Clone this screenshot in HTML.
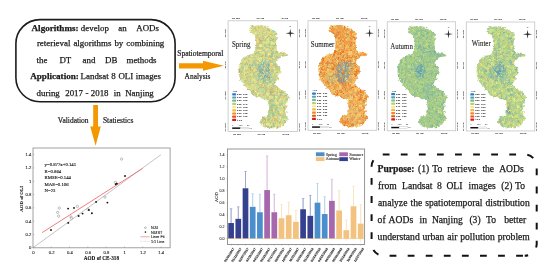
<!DOCTYPE html>
<html><head><meta charset="utf-8"><style>
html,body{margin:0;padding:0;background:#fff;}
body{width:550px;height:280px;position:relative;overflow:hidden;font-family:'Liberation Serif', 'Times New Roman', serif;color:#1a1a1a;}
.jl{position:absolute;white-space:nowrap;text-align:justify;text-align-last:justify;line-height:1;-webkit-text-stroke:0.25px #1a1a1a;}
.jl b,.jw b{font-weight:bold;}
.jw{position:absolute;white-space:nowrap;line-height:1;-webkit-text-stroke:0.25px #1a1a1a;}
.abs{position:absolute;}
svg{position:absolute;overflow:visible;}
.lbl{position:absolute;white-space:nowrap;line-height:1;-webkit-text-stroke:0.2px #1a1a1a;}
</style></head><body>
<svg width="550" height="280" style="left:0;top:0" viewBox="0 0 550 280"><rect x="15.9" y="19.6" width="159.2" height="82.2" rx="24" ry="24" fill="none" stroke="#1c1c1c" stroke-width="1.6"/></svg>
<div class="jw" style="left:31.5px;top:23.67px;font-size:8.9px"><b style="font-size:9.15px">Algorithms:</b> develop</div>
<div class="jw" style="left:118.2px;top:23.67px;font-size:8.9px">an</div>
<div class="jw" style="left:136.3px;top:23.67px;font-size:8.9px">AODs</div>
<div class="jl" style="left:36.9px;top:39.47px;width:127.4px;font-size:8.9px">reterieval algorithms by combining</div>
<div class="jw" style="left:36.6px;top:55.67px;font-size:8.9px">the</div>
<div class="jw" style="left:59.4px;top:55.67px;font-size:8.9px">DT</div>
<div class="jw" style="left:82.6px;top:55.67px;font-size:8.9px">and</div>
<div class="jw" style="left:105.0px;top:55.67px;font-size:8.9px">DB</div>
<div class="jw" style="left:126.5px;top:55.67px;font-size:8.9px">methods</div>
<div class="jw" style="left:30.2px;top:71.67px;font-size:8.9px"><b style="font-size:9.15px">Application:</b></div>
<div class="jl" style="left:80.6px;top:71.67px;width:80.4px;font-size:8.9px">Landsat 8 OLI images</div>
<div class="jw" style="left:36.6px;top:88.57px;font-size:8.9px">during</div>
<div class="jw" style="left:65.2px;top:88.57px;font-size:8.9px">2017</div>
<div class="jw" style="left:85.5px;top:88.57px;font-size:8.9px">-</div>
<div class="jw" style="left:90.8px;top:88.57px;font-size:8.9px">2018</div>
<div class="jw" style="left:113.8px;top:88.57px;font-size:8.9px">in</div>
<div class="jw" style="left:125.2px;top:88.57px;font-size:8.9px">Nanjing</div>
<svg width="550" height="280" style="left:0;top:0" viewBox="0 0 550 280">
<polygon points="179,63.2 203,63.2 203,60.8 223.8,65.8 203,70.8 203,68.4 179,68.4" fill="#F39800"/>
<polygon points="93.2,105 98,105 98,126.6 100.8,126.6 95.6,145.8 90.2,126.6 93.2,126.6" fill="#F39800"/>
</svg>
<div class="lbl" style="left:177.2px;top:50.17px;font-size:7.55px;">Spatiotemporal</div>
<div class="lbl" style="left:184.6px;top:73.21px;font-size:7.4px;">Analysis</div>
<div class="lbl" style="left:57.8px;top:116.72px;font-size:7.5px;">Validation</div>
<div class="lbl" style="left:102.9px;top:116.72px;font-size:7.5px;">Statiestics</div>
<svg width="550" height="280" style="left:0;top:0" viewBox="0 0 550 280">
<defs>
<clipPath id="njclip"><path d="M21.1 6.8 L22.0 5.6 L25.3 5.1 L28.7 4.6 L32.9 4.2 L37.1 5.1 L39.6 6.8 L42.9 8.4 L45.5 10.1 L48.0 10.9 L49.7 13.5 L48.8 16.0 L48.0 19.3 L48.0 24.4 L48.8 29.4 L50.5 31.9 L55.5 31.9 L60.6 33.6 L58.0 35.3 L53.0 36.1 L50.5 38.4 L48.0 41.8 L49.7 45.2 L52.2 47.7 L52.2 51.0 L50.6 54.4 L49.7 57.7 L48.0 61.1 L46.7 63.8 L48.9 65.5 L52.7 67.8 L55.9 70.2 L58.7 72.7 L60.7 75.8 L59.9 80.0 L58.2 85.0 L57.4 90.0 L59.0 94.2 L59.9 98.4 L57.4 102.6 L53.2 106.5 L46.5 107.7 L38.1 107.2 L33.9 105.2 L32.2 102.6 L32.2 99.3 L33.9 96.8 L36.4 95.1 L39.7 94.2 L40.6 92.6 L41.1 88.4 L40.6 83.3 L39.7 80.0 L38.1 78.3 L35.6 77.5 L32.2 76.6 L28.8 76.3 L25.4 74.5 L22.9 72.0 L20.4 69.5 L17.8 66.1 L15.3 63.6 L12.8 60.2 L11.1 56.0 L10.3 51.0 L11.1 46.0 L12.0 41.8 L13.6 38.4 L16.2 35.9 L19.5 34.2 L23.7 33.4 L25.3 32.8 L27.0 30.2 L27.8 26.0 L27.8 19.3 L27.0 14.3 L24.5 12.6 L22.0 10.9 Z"/></clipPath>
<filter id="jag" x="-5%" y="-5%" width="110%" height="110%" color-interpolation-filters="sRGB"><feTurbulence type="fractalNoise" baseFrequency="0.3" numOctaves="3" seed="4" result="t"/><feDisplacementMap in="SourceGraphic" in2="t" scale="4.5" xChannelSelector="R" yChannelSelector="G"/></filter>
<filter id="blur" x="-50%" y="-50%" width="200%" height="200%" color-interpolation-filters="sRGB"><feGaussianBlur in="SourceGraphic" stdDeviation="1.5" result="b"/><feTurbulence type="fractalNoise" baseFrequency="0.45" numOctaves="2" seed="11" result="t"/><feColorMatrix in="t" type="matrix" values="0 0 0 0 0  0 0 0 0 0  0 0 0 0 0  4 0 0 0 -1.4" result="m"/><feComposite in="b" in2="m" operator="in"/></filter>
<filter id="nz0" x="0" y="0" width="1" height="1" color-interpolation-filters="sRGB">
<feTurbulence type="fractalNoise" baseFrequency="0.38" numOctaves="3" seed="3"/>
<feColorMatrix type="matrix" values="-0.561 0.136 0.108 0 0.962  -0.270 -0.249 0.047 0 1.083  0.214 -0.259 0.108 0 0.537  0 0 0 0 1"/>
<feGaussianBlur stdDeviation="0.4"/>
</filter>
<filter id="vn0" x="0" y="0" width="1" height="1" color-interpolation-filters="sRGB"><feTurbulence type="turbulence" baseFrequency="0.16" numOctaves="3" seed="21"/><feColorMatrix type="matrix" values="0 0 0 0 0.886  0 0 0 0 0.478  0 0 0 0 0.220  -2.48 0 0 0 0.45"/></filter>
<filter id="nz1" x="0" y="0" width="1" height="1" color-interpolation-filters="sRGB">
<feTurbulence type="fractalNoise" baseFrequency="0.38" numOctaves="3" seed="10"/>
<feColorMatrix type="matrix" values="-0.395 -0.063 0.033 0 1.154  0.110 -0.464 0.231 0 0.760  0.285 -0.301 0.340 0 0.191  0 0 0 0 1"/>
<feGaussianBlur stdDeviation="0.4"/>
</filter>
<filter id="vn1" x="0" y="0" width="1" height="1" color-interpolation-filters="sRGB"><feTurbulence type="turbulence" baseFrequency="0.16" numOctaves="3" seed="26"/><feColorMatrix type="matrix" values="0 0 0 0 0.847  0 0 0 0 0.314  0 0 0 0 0.110  -3.38 0 0 0 0.75"/></filter>
<filter id="nz2" x="0" y="0" width="1" height="1" color-interpolation-filters="sRGB">
<feTurbulence type="fractalNoise" baseFrequency="0.38" numOctaves="3" seed="17"/>
<feColorMatrix type="matrix" values="-0.387 0.233 0.138 0 0.659  -0.209 0.060 0.078 0 0.832  0.250 0.017 0.065 0 0.379  0 0 0 0 1"/>
<feGaussianBlur stdDeviation="0.4"/>
</filter>
<filter id="vn2" x="0" y="0" width="1" height="1" color-interpolation-filters="sRGB"><feTurbulence type="turbulence" baseFrequency="0.16" numOctaves="3" seed="31"/><feColorMatrix type="matrix" values="0 0 0 0 0.310  0 0 0 0 0.612  0 0 0 0 0.753  -2.70 0 0 0 0.45"/></filter>
<filter id="nz3" x="0" y="0" width="1" height="1" color-interpolation-filters="sRGB">
<feTurbulence type="fractalNoise" baseFrequency="0.38" numOctaves="3" seed="24"/>
<feColorMatrix type="matrix" values="-0.576 0.190 0.155 0 0.853  -0.294 -0.155 0.060 0 1.026  0.306 -0.155 0.104 0 0.414  0 0 0 0 1"/>
<feGaussianBlur stdDeviation="0.4"/>
</filter>
<filter id="vn3" x="0" y="0" width="1" height="1" color-interpolation-filters="sRGB"><feTurbulence type="turbulence" baseFrequency="0.16" numOctaves="3" seed="36"/><feColorMatrix type="matrix" values="0 0 0 0 0.310  0 0 0 0 0.612  0 0 0 0 0.753  -3.00 0 0 0 0.50"/></filter>
</defs>
<g transform="translate(228.1,20.8) scale(1.0)">
<rect x="0" y="0" width="69.5" height="110.6" fill="#fff" stroke="#c4c4c4" stroke-width="0.8"/>
<text transform="translate(7.8,-1.6) scale(0.8,1)" font-size="2.4" fill="#333" stroke="#333" stroke-width="0.06" text-anchor="middle" font-family="'Liberation Sans', Arial, sans-serif">118°30'E</text>
<text transform="translate(8.8,114.2) scale(0.8,1)" font-size="2.4" fill="#333" stroke="#333" stroke-width="0.06" text-anchor="middle" font-family="'Liberation Sans', Arial, sans-serif">118°30'E</text>
<text transform="translate(32.2,-1.6) scale(0.8,1)" font-size="2.4" fill="#333" stroke="#333" stroke-width="0.06" text-anchor="middle" font-family="'Liberation Sans', Arial, sans-serif">118°45'E</text>
<text transform="translate(33.2,114.2) scale(0.8,1)" font-size="2.4" fill="#333" stroke="#333" stroke-width="0.06" text-anchor="middle" font-family="'Liberation Sans', Arial, sans-serif">118°45'E</text>
<text transform="translate(56.6,-1.6) scale(0.8,1)" font-size="2.4" fill="#333" stroke="#333" stroke-width="0.06" text-anchor="middle" font-family="'Liberation Sans', Arial, sans-serif">119°0'E</text>
<text transform="translate(57.6,114.2) scale(0.8,1)" font-size="2.4" fill="#333" stroke="#333" stroke-width="0.06" text-anchor="middle" font-family="'Liberation Sans', Arial, sans-serif">119°0'E</text>
<text transform="translate(-2.0,12.2) rotate(-90)" font-size="2.4" fill="#333" stroke="#333" stroke-width="0.06" text-anchor="middle" font-family="'Liberation Sans', Arial, sans-serif">32°30'N</text>
<text transform="translate(71.7,12.2) rotate(-90)" font-size="2.4" fill="#333" stroke="#333" stroke-width="0.06" text-anchor="middle" font-family="'Liberation Sans', Arial, sans-serif">32°30'N</text>
<text transform="translate(-2.0,44.2) rotate(-90)" font-size="2.4" fill="#333" stroke="#333" stroke-width="0.06" text-anchor="middle" font-family="'Liberation Sans', Arial, sans-serif">32°0'N</text>
<text transform="translate(71.7,44.2) rotate(-90)" font-size="2.4" fill="#333" stroke="#333" stroke-width="0.06" text-anchor="middle" font-family="'Liberation Sans', Arial, sans-serif">32°0'N</text>
<text transform="translate(-2.0,74.4) rotate(-90)" font-size="2.4" fill="#333" stroke="#333" stroke-width="0.06" text-anchor="middle" font-family="'Liberation Sans', Arial, sans-serif">31°45'N</text>
<text transform="translate(71.7,74.4) rotate(-90)" font-size="2.4" fill="#333" stroke="#333" stroke-width="0.06" text-anchor="middle" font-family="'Liberation Sans', Arial, sans-serif">31°45'N</text>
<text transform="translate(-2.0,106.4) rotate(-90)" font-size="2.4" fill="#333" stroke="#333" stroke-width="0.06" text-anchor="middle" font-family="'Liberation Sans', Arial, sans-serif">31°30'N</text>
<text transform="translate(71.7,106.4) rotate(-90)" font-size="2.4" fill="#333" stroke="#333" stroke-width="0.06" text-anchor="middle" font-family="'Liberation Sans', Arial, sans-serif">31°30'N</text>
<g filter="url(#jag)"><g clip-path="url(#njclip)">
<rect x="8" y="2" width="56" height="108" filter="url(#nz0)"/>
<rect x="8" y="2" width="56" height="108" filter="url(#vn0)"/>
<g filter="url(#blur)">
<ellipse cx="36" cy="50" rx="7" ry="10" fill="#4f97c2" opacity="0.51"/>
<ellipse cx="40" cy="60" rx="4" ry="4" fill="#5a9fc0" opacity="0.425"/>
<ellipse cx="31.5" cy="20.5" rx="2.2" ry="2.5" fill="#ee8a3a" opacity="0.765"/>
<ellipse cx="27" cy="27" rx="1.5" ry="4" fill="#eea050" opacity="0.51"/>
<ellipse cx="43" cy="88" rx="5" ry="10" fill="#8cbf98" opacity="0.51"/>
<ellipse cx="22" cy="60" rx="7" ry="7" fill="#d2d48a" opacity="0.425"/>
<ellipse cx="44" cy="70" rx="4" ry="3" fill="#e07a40" opacity="0.34"/>
<ellipse cx="33" cy="10" rx="8" ry="5" fill="#e6cf88" opacity="0.51"/>
</g>
</g></g>
<text transform="translate(3.8,26.3) scale(0.78,1)" font-size="9" fill="#1a1a1a" stroke="#1a1a1a" stroke-width="0.1" font-family="'Liberation Serif', 'Times New Roman', serif">Spring</text>
<path d="M62.2 7.9 L62.900000000000006 11.8 L66.8 12.5 L62.900000000000006 13.2 L62.2 17.0 L61.5 13.2 L57.5 12.5 L61.5 11.8 Z" fill="#333"/>
<text x="62.2" y="6.2" font-size="2.2" fill="#333" text-anchor="middle" font-family="'Liberation Sans', Arial, sans-serif">N</text>
<text x="4.6" y="71.2" font-size="2.1" fill="#222" font-family="'Liberation Sans', Arial, sans-serif" font-weight="bold">AOD</text>
<rect x="4.1" y="72.40" width="3.9" height="2.2" rx="0.6" fill="#2a7cc4"/>
<text x="9" y="74.20" font-size="2.2" fill="#222" stroke="#222" stroke-width="0.06" font-family="'Liberation Sans', Arial, sans-serif">0.00 - 0.17</text>
<rect x="4.1" y="75.60" width="3.9" height="2.2" rx="0.6" fill="#5a9fbd"/>
<text x="9" y="77.40" font-size="2.2" fill="#222" stroke="#222" stroke-width="0.06" font-family="'Liberation Sans', Arial, sans-serif">0.17 - 0.28</text>
<rect x="4.1" y="78.80" width="3.9" height="2.2" rx="0.6" fill="#7fb98a"/>
<text x="9" y="80.60" font-size="2.2" fill="#222" stroke="#222" stroke-width="0.06" font-family="'Liberation Sans', Arial, sans-serif">0.28 - 0.37</text>
<rect x="4.1" y="82.00" width="3.9" height="2.2" rx="0.6" fill="#b4d36a"/>
<text x="9" y="83.80" font-size="2.2" fill="#222" stroke="#222" stroke-width="0.06" font-family="'Liberation Sans', Arial, sans-serif">0.37 - 0.46</text>
<rect x="4.1" y="85.20" width="3.9" height="2.2" rx="0.6" fill="#f6e7a6"/>
<text x="9" y="87.00" font-size="2.2" fill="#222" stroke="#222" stroke-width="0.06" font-family="'Liberation Sans', Arial, sans-serif">0.46 - 0.73</text>
<rect x="4.1" y="88.40" width="3.9" height="2.2" rx="0.6" fill="#f7bb3c"/>
<text x="9" y="90.20" font-size="2.2" fill="#222" stroke="#222" stroke-width="0.06" font-family="'Liberation Sans', Arial, sans-serif">0.73 - 0.88</text>
<rect x="4.1" y="91.60" width="3.9" height="2.2" rx="0.6" fill="#f4862a"/>
<text x="9" y="93.40" font-size="2.2" fill="#222" stroke="#222" stroke-width="0.06" font-family="'Liberation Sans', Arial, sans-serif">0.88 - 1.05</text>
<rect x="4.1" y="94.80" width="3.9" height="2.2" rx="0.6" fill="#e6511d"/>
<text x="9" y="96.60" font-size="2.2" fill="#222" stroke="#222" stroke-width="0.06" font-family="'Liberation Sans', Arial, sans-serif">1.05 - 1.26</text>
<rect x="4.1" y="98.00" width="3.9" height="2.2" rx="0.6" fill="#dc1a12"/>
<text x="9" y="99.80" font-size="2.2" fill="#222" stroke="#222" stroke-width="0.06" font-family="'Liberation Sans', Arial, sans-serif">&gt; 1.3</text>
<text x="4" y="105" font-size="2.1" fill="#333" font-family="'Liberation Sans', Arial, sans-serif">0</text>
<text x="10.5" y="105" font-size="2.1" fill="#333" font-family="'Liberation Sans', Arial, sans-serif">12.5</text>
<text x="19" y="105" font-size="2.1" fill="#333" font-family="'Liberation Sans', Arial, sans-serif">25</text>
<rect x="4.1" y="106.6" width="8" height="1.5" fill="#111"/>
<rect x="12.1" y="106.6" width="8.6" height="1.5" fill="#fff" stroke="#999" stroke-width="0.3"/>
<text x="21.2" y="108.2" font-size="1.8" fill="#444" font-family="'Liberation Sans', Arial, sans-serif">Km</text>
</g>
<g transform="translate(308.0,20.8) scale(0.99)">
<rect x="0" y="0" width="69.5" height="110.6" fill="#fff" stroke="#c4c4c4" stroke-width="0.8"/>
<text transform="translate(7.8,-1.6) scale(0.8,1)" font-size="2.4" fill="#333" stroke="#333" stroke-width="0.06" text-anchor="middle" font-family="'Liberation Sans', Arial, sans-serif">118°30'E</text>
<text transform="translate(8.8,114.2) scale(0.8,1)" font-size="2.4" fill="#333" stroke="#333" stroke-width="0.06" text-anchor="middle" font-family="'Liberation Sans', Arial, sans-serif">118°30'E</text>
<text transform="translate(32.2,-1.6) scale(0.8,1)" font-size="2.4" fill="#333" stroke="#333" stroke-width="0.06" text-anchor="middle" font-family="'Liberation Sans', Arial, sans-serif">118°45'E</text>
<text transform="translate(33.2,114.2) scale(0.8,1)" font-size="2.4" fill="#333" stroke="#333" stroke-width="0.06" text-anchor="middle" font-family="'Liberation Sans', Arial, sans-serif">118°45'E</text>
<text transform="translate(56.6,-1.6) scale(0.8,1)" font-size="2.4" fill="#333" stroke="#333" stroke-width="0.06" text-anchor="middle" font-family="'Liberation Sans', Arial, sans-serif">119°0'E</text>
<text transform="translate(57.6,114.2) scale(0.8,1)" font-size="2.4" fill="#333" stroke="#333" stroke-width="0.06" text-anchor="middle" font-family="'Liberation Sans', Arial, sans-serif">119°0'E</text>
<text transform="translate(-2.0,12.2) rotate(-90)" font-size="2.4" fill="#333" stroke="#333" stroke-width="0.06" text-anchor="middle" font-family="'Liberation Sans', Arial, sans-serif">32°30'N</text>
<text transform="translate(71.7,12.2) rotate(-90)" font-size="2.4" fill="#333" stroke="#333" stroke-width="0.06" text-anchor="middle" font-family="'Liberation Sans', Arial, sans-serif">32°30'N</text>
<text transform="translate(-2.0,44.2) rotate(-90)" font-size="2.4" fill="#333" stroke="#333" stroke-width="0.06" text-anchor="middle" font-family="'Liberation Sans', Arial, sans-serif">32°0'N</text>
<text transform="translate(71.7,44.2) rotate(-90)" font-size="2.4" fill="#333" stroke="#333" stroke-width="0.06" text-anchor="middle" font-family="'Liberation Sans', Arial, sans-serif">32°0'N</text>
<text transform="translate(-2.0,74.4) rotate(-90)" font-size="2.4" fill="#333" stroke="#333" stroke-width="0.06" text-anchor="middle" font-family="'Liberation Sans', Arial, sans-serif">31°45'N</text>
<text transform="translate(71.7,74.4) rotate(-90)" font-size="2.4" fill="#333" stroke="#333" stroke-width="0.06" text-anchor="middle" font-family="'Liberation Sans', Arial, sans-serif">31°45'N</text>
<text transform="translate(-2.0,106.4) rotate(-90)" font-size="2.4" fill="#333" stroke="#333" stroke-width="0.06" text-anchor="middle" font-family="'Liberation Sans', Arial, sans-serif">31°30'N</text>
<text transform="translate(71.7,106.4) rotate(-90)" font-size="2.4" fill="#333" stroke="#333" stroke-width="0.06" text-anchor="middle" font-family="'Liberation Sans', Arial, sans-serif">31°30'N</text>
<g filter="url(#jag)"><g clip-path="url(#njclip)">
<rect x="8" y="2" width="56" height="108" filter="url(#nz1)"/>
<rect x="8" y="2" width="56" height="108" filter="url(#vn1)"/>
<g filter="url(#blur)">
<ellipse cx="35" cy="52" rx="8" ry="11" fill="#4f97c2" opacity="0.6375"/>
<ellipse cx="41" cy="44" rx="4" ry="4" fill="#5a9fc0" opacity="0.51"/>
<ellipse cx="24" cy="60" rx="3" ry="3" fill="#6aa8b8" opacity="0.425"/>
<ellipse cx="30" cy="12" rx="9" ry="7" fill="#ee8a36" opacity="0.595"/>
<ellipse cx="42" cy="25" rx="6" ry="6" fill="#ef9440" opacity="0.51"/>
<ellipse cx="46" cy="95" rx="8" ry="9" fill="#e9cc84" opacity="0.595"/>
<ellipse cx="22" cy="58" rx="5" ry="5" fill="#b4c88a" opacity="0.425"/>
<ellipse cx="44" cy="76" rx="4" ry="4" fill="#d8c888" opacity="0.425"/>
</g>
</g></g>
<text transform="translate(2.9,26.3) scale(0.78,1)" font-size="9" fill="#1a1a1a" stroke="#1a1a1a" stroke-width="0.1" font-family="'Liberation Serif', 'Times New Roman', serif">Summer</text>
<path d="M62.2 7.9 L62.900000000000006 11.8 L66.8 12.5 L62.900000000000006 13.2 L62.2 17.0 L61.5 13.2 L57.5 12.5 L61.5 11.8 Z" fill="#333"/>
<text x="62.2" y="6.2" font-size="2.2" fill="#333" text-anchor="middle" font-family="'Liberation Sans', Arial, sans-serif">N</text>
<text x="4.6" y="71.2" font-size="2.1" fill="#222" font-family="'Liberation Sans', Arial, sans-serif" font-weight="bold">AOD</text>
<rect x="4.1" y="72.40" width="3.9" height="2.2" rx="0.6" fill="#2a7cc4"/>
<text x="9" y="74.20" font-size="2.2" fill="#222" stroke="#222" stroke-width="0.06" font-family="'Liberation Sans', Arial, sans-serif">0.00 - 0.17</text>
<rect x="4.1" y="75.60" width="3.9" height="2.2" rx="0.6" fill="#5a9fbd"/>
<text x="9" y="77.40" font-size="2.2" fill="#222" stroke="#222" stroke-width="0.06" font-family="'Liberation Sans', Arial, sans-serif">0.17 - 0.28</text>
<rect x="4.1" y="78.80" width="3.9" height="2.2" rx="0.6" fill="#7fb98a"/>
<text x="9" y="80.60" font-size="2.2" fill="#222" stroke="#222" stroke-width="0.06" font-family="'Liberation Sans', Arial, sans-serif">0.28 - 0.37</text>
<rect x="4.1" y="82.00" width="3.9" height="2.2" rx="0.6" fill="#b4d36a"/>
<text x="9" y="83.80" font-size="2.2" fill="#222" stroke="#222" stroke-width="0.06" font-family="'Liberation Sans', Arial, sans-serif">0.37 - 0.46</text>
<rect x="4.1" y="85.20" width="3.9" height="2.2" rx="0.6" fill="#f6e7a6"/>
<text x="9" y="87.00" font-size="2.2" fill="#222" stroke="#222" stroke-width="0.06" font-family="'Liberation Sans', Arial, sans-serif">0.46 - 0.73</text>
<rect x="4.1" y="88.40" width="3.9" height="2.2" rx="0.6" fill="#f7bb3c"/>
<text x="9" y="90.20" font-size="2.2" fill="#222" stroke="#222" stroke-width="0.06" font-family="'Liberation Sans', Arial, sans-serif">0.73 - 0.88</text>
<rect x="4.1" y="91.60" width="3.9" height="2.2" rx="0.6" fill="#f4862a"/>
<text x="9" y="93.40" font-size="2.2" fill="#222" stroke="#222" stroke-width="0.06" font-family="'Liberation Sans', Arial, sans-serif">0.88 - 1.05</text>
<rect x="4.1" y="94.80" width="3.9" height="2.2" rx="0.6" fill="#e6511d"/>
<text x="9" y="96.60" font-size="2.2" fill="#222" stroke="#222" stroke-width="0.06" font-family="'Liberation Sans', Arial, sans-serif">1.05 - 1.26</text>
<rect x="4.1" y="98.00" width="3.9" height="2.2" rx="0.6" fill="#dc1a12"/>
<text x="9" y="99.80" font-size="2.2" fill="#222" stroke="#222" stroke-width="0.06" font-family="'Liberation Sans', Arial, sans-serif">&gt; 1.3</text>
<text x="4" y="105" font-size="2.1" fill="#333" font-family="'Liberation Sans', Arial, sans-serif">0</text>
<text x="10.5" y="105" font-size="2.1" fill="#333" font-family="'Liberation Sans', Arial, sans-serif">12.5</text>
<text x="19" y="105" font-size="2.1" fill="#333" font-family="'Liberation Sans', Arial, sans-serif">25</text>
<rect x="4.1" y="106.6" width="8" height="1.5" fill="#111"/>
<rect x="12.1" y="106.6" width="8.6" height="1.5" fill="#fff" stroke="#999" stroke-width="0.3"/>
<text x="21.2" y="108.2" font-size="1.8" fill="#444" font-family="'Liberation Sans', Arial, sans-serif">Km</text>
</g>
<g transform="translate(387.2,21.8) scale(0.985)">
<rect x="0" y="0" width="69.5" height="110.6" fill="#fff" stroke="#c4c4c4" stroke-width="0.8"/>
<text transform="translate(7.8,-1.6) scale(0.8,1)" font-size="2.4" fill="#333" stroke="#333" stroke-width="0.06" text-anchor="middle" font-family="'Liberation Sans', Arial, sans-serif">118°30'E</text>
<text transform="translate(8.8,114.2) scale(0.8,1)" font-size="2.4" fill="#333" stroke="#333" stroke-width="0.06" text-anchor="middle" font-family="'Liberation Sans', Arial, sans-serif">118°30'E</text>
<text transform="translate(32.2,-1.6) scale(0.8,1)" font-size="2.4" fill="#333" stroke="#333" stroke-width="0.06" text-anchor="middle" font-family="'Liberation Sans', Arial, sans-serif">118°45'E</text>
<text transform="translate(33.2,114.2) scale(0.8,1)" font-size="2.4" fill="#333" stroke="#333" stroke-width="0.06" text-anchor="middle" font-family="'Liberation Sans', Arial, sans-serif">118°45'E</text>
<text transform="translate(56.6,-1.6) scale(0.8,1)" font-size="2.4" fill="#333" stroke="#333" stroke-width="0.06" text-anchor="middle" font-family="'Liberation Sans', Arial, sans-serif">119°0'E</text>
<text transform="translate(57.6,114.2) scale(0.8,1)" font-size="2.4" fill="#333" stroke="#333" stroke-width="0.06" text-anchor="middle" font-family="'Liberation Sans', Arial, sans-serif">119°0'E</text>
<text transform="translate(-2.0,12.2) rotate(-90)" font-size="2.4" fill="#333" stroke="#333" stroke-width="0.06" text-anchor="middle" font-family="'Liberation Sans', Arial, sans-serif">32°30'N</text>
<text transform="translate(71.7,12.2) rotate(-90)" font-size="2.4" fill="#333" stroke="#333" stroke-width="0.06" text-anchor="middle" font-family="'Liberation Sans', Arial, sans-serif">32°30'N</text>
<text transform="translate(-2.0,44.2) rotate(-90)" font-size="2.4" fill="#333" stroke="#333" stroke-width="0.06" text-anchor="middle" font-family="'Liberation Sans', Arial, sans-serif">32°0'N</text>
<text transform="translate(71.7,44.2) rotate(-90)" font-size="2.4" fill="#333" stroke="#333" stroke-width="0.06" text-anchor="middle" font-family="'Liberation Sans', Arial, sans-serif">32°0'N</text>
<text transform="translate(-2.0,74.4) rotate(-90)" font-size="2.4" fill="#333" stroke="#333" stroke-width="0.06" text-anchor="middle" font-family="'Liberation Sans', Arial, sans-serif">31°45'N</text>
<text transform="translate(71.7,74.4) rotate(-90)" font-size="2.4" fill="#333" stroke="#333" stroke-width="0.06" text-anchor="middle" font-family="'Liberation Sans', Arial, sans-serif">31°45'N</text>
<text transform="translate(-2.0,106.4) rotate(-90)" font-size="2.4" fill="#333" stroke="#333" stroke-width="0.06" text-anchor="middle" font-family="'Liberation Sans', Arial, sans-serif">31°30'N</text>
<text transform="translate(71.7,106.4) rotate(-90)" font-size="2.4" fill="#333" stroke="#333" stroke-width="0.06" text-anchor="middle" font-family="'Liberation Sans', Arial, sans-serif">31°30'N</text>
<g filter="url(#jag)"><g clip-path="url(#njclip)">
<rect x="8" y="2" width="56" height="108" filter="url(#nz2)"/>
<rect x="8" y="2" width="56" height="108" filter="url(#vn2)"/>
<g filter="url(#blur)">
<ellipse cx="34" cy="50" rx="5" ry="7" fill="#4a94c2" opacity="0.765"/>
<ellipse cx="40.5" cy="89.5" rx="1.3" ry="3.2" fill="#3f8ec4" opacity="0.765"/>
<ellipse cx="50" cy="31.5" rx="9" ry="1.6" fill="#3f8ec4" opacity="0.68"/>
<ellipse cx="38" cy="29" rx="6" ry="2" fill="#4f97c2" opacity="0.51"/>
<ellipse cx="42" cy="70" rx="4" ry="8" fill="#6aa8b8" opacity="0.425"/>
<ellipse cx="20" cy="58" rx="6" ry="6" fill="#c8d282" opacity="0.425"/>
<ellipse cx="45" cy="98" rx="6" ry="7" fill="#a9cb80" opacity="0.425"/>
</g>
</g></g>
<text transform="translate(3.05,27.2) scale(0.78,1)" font-size="9" fill="#1a1a1a" stroke="#1a1a1a" stroke-width="0.1" font-family="'Liberation Serif', 'Times New Roman', serif">Autumn</text>
<path d="M62.2 7.9 L62.900000000000006 11.8 L66.8 12.5 L62.900000000000006 13.2 L62.2 17.0 L61.5 13.2 L57.5 12.5 L61.5 11.8 Z" fill="#333"/>
<text x="62.2" y="6.2" font-size="2.2" fill="#333" text-anchor="middle" font-family="'Liberation Sans', Arial, sans-serif">N</text>
<text x="4.6" y="71.2" font-size="2.1" fill="#222" font-family="'Liberation Sans', Arial, sans-serif" font-weight="bold">AOD</text>
<rect x="4.1" y="72.40" width="3.9" height="2.2" rx="0.6" fill="#2a7cc4"/>
<text x="9" y="74.20" font-size="2.2" fill="#222" stroke="#222" stroke-width="0.06" font-family="'Liberation Sans', Arial, sans-serif">0.00 - 0.17</text>
<rect x="4.1" y="75.60" width="3.9" height="2.2" rx="0.6" fill="#5a9fbd"/>
<text x="9" y="77.40" font-size="2.2" fill="#222" stroke="#222" stroke-width="0.06" font-family="'Liberation Sans', Arial, sans-serif">0.17 - 0.28</text>
<rect x="4.1" y="78.80" width="3.9" height="2.2" rx="0.6" fill="#7fb98a"/>
<text x="9" y="80.60" font-size="2.2" fill="#222" stroke="#222" stroke-width="0.06" font-family="'Liberation Sans', Arial, sans-serif">0.28 - 0.37</text>
<rect x="4.1" y="82.00" width="3.9" height="2.2" rx="0.6" fill="#b4d36a"/>
<text x="9" y="83.80" font-size="2.2" fill="#222" stroke="#222" stroke-width="0.06" font-family="'Liberation Sans', Arial, sans-serif">0.37 - 0.46</text>
<rect x="4.1" y="85.20" width="3.9" height="2.2" rx="0.6" fill="#f6e7a6"/>
<text x="9" y="87.00" font-size="2.2" fill="#222" stroke="#222" stroke-width="0.06" font-family="'Liberation Sans', Arial, sans-serif">0.46 - 0.73</text>
<rect x="4.1" y="88.40" width="3.9" height="2.2" rx="0.6" fill="#f7bb3c"/>
<text x="9" y="90.20" font-size="2.2" fill="#222" stroke="#222" stroke-width="0.06" font-family="'Liberation Sans', Arial, sans-serif">0.73 - 0.88</text>
<rect x="4.1" y="91.60" width="3.9" height="2.2" rx="0.6" fill="#f4862a"/>
<text x="9" y="93.40" font-size="2.2" fill="#222" stroke="#222" stroke-width="0.06" font-family="'Liberation Sans', Arial, sans-serif">0.88 - 1.05</text>
<rect x="4.1" y="94.80" width="3.9" height="2.2" rx="0.6" fill="#e6511d"/>
<text x="9" y="96.60" font-size="2.2" fill="#222" stroke="#222" stroke-width="0.06" font-family="'Liberation Sans', Arial, sans-serif">1.05 - 1.26</text>
<rect x="4.1" y="98.00" width="3.9" height="2.2" rx="0.6" fill="#dc1a12"/>
<text x="9" y="99.80" font-size="2.2" fill="#222" stroke="#222" stroke-width="0.06" font-family="'Liberation Sans', Arial, sans-serif">&gt; 1.3</text>
<text x="4" y="105" font-size="2.1" fill="#333" font-family="'Liberation Sans', Arial, sans-serif">0</text>
<text x="10.5" y="105" font-size="2.1" fill="#333" font-family="'Liberation Sans', Arial, sans-serif">12.5</text>
<text x="19" y="105" font-size="2.1" fill="#333" font-family="'Liberation Sans', Arial, sans-serif">25</text>
<rect x="4.1" y="106.6" width="8" height="1.5" fill="#111"/>
<rect x="12.1" y="106.6" width="8.6" height="1.5" fill="#fff" stroke="#999" stroke-width="0.3"/>
<text x="21.2" y="108.2" font-size="1.8" fill="#444" font-family="'Liberation Sans', Arial, sans-serif">Km</text>
</g>
<g transform="translate(466.3,22.0) scale(0.985)">
<rect x="0" y="0" width="69.5" height="110.6" fill="#fff" stroke="#c4c4c4" stroke-width="0.8"/>
<text transform="translate(7.8,-1.6) scale(0.8,1)" font-size="2.4" fill="#333" stroke="#333" stroke-width="0.06" text-anchor="middle" font-family="'Liberation Sans', Arial, sans-serif">118°30'E</text>
<text transform="translate(8.8,114.2) scale(0.8,1)" font-size="2.4" fill="#333" stroke="#333" stroke-width="0.06" text-anchor="middle" font-family="'Liberation Sans', Arial, sans-serif">118°30'E</text>
<text transform="translate(32.2,-1.6) scale(0.8,1)" font-size="2.4" fill="#333" stroke="#333" stroke-width="0.06" text-anchor="middle" font-family="'Liberation Sans', Arial, sans-serif">118°45'E</text>
<text transform="translate(33.2,114.2) scale(0.8,1)" font-size="2.4" fill="#333" stroke="#333" stroke-width="0.06" text-anchor="middle" font-family="'Liberation Sans', Arial, sans-serif">118°45'E</text>
<text transform="translate(56.6,-1.6) scale(0.8,1)" font-size="2.4" fill="#333" stroke="#333" stroke-width="0.06" text-anchor="middle" font-family="'Liberation Sans', Arial, sans-serif">119°0'E</text>
<text transform="translate(57.6,114.2) scale(0.8,1)" font-size="2.4" fill="#333" stroke="#333" stroke-width="0.06" text-anchor="middle" font-family="'Liberation Sans', Arial, sans-serif">119°0'E</text>
<text transform="translate(-2.0,12.2) rotate(-90)" font-size="2.4" fill="#333" stroke="#333" stroke-width="0.06" text-anchor="middle" font-family="'Liberation Sans', Arial, sans-serif">32°30'N</text>
<text transform="translate(71.7,12.2) rotate(-90)" font-size="2.4" fill="#333" stroke="#333" stroke-width="0.06" text-anchor="middle" font-family="'Liberation Sans', Arial, sans-serif">32°30'N</text>
<text transform="translate(-2.0,44.2) rotate(-90)" font-size="2.4" fill="#333" stroke="#333" stroke-width="0.06" text-anchor="middle" font-family="'Liberation Sans', Arial, sans-serif">32°0'N</text>
<text transform="translate(71.7,44.2) rotate(-90)" font-size="2.4" fill="#333" stroke="#333" stroke-width="0.06" text-anchor="middle" font-family="'Liberation Sans', Arial, sans-serif">32°0'N</text>
<text transform="translate(-2.0,74.4) rotate(-90)" font-size="2.4" fill="#333" stroke="#333" stroke-width="0.06" text-anchor="middle" font-family="'Liberation Sans', Arial, sans-serif">31°45'N</text>
<text transform="translate(71.7,74.4) rotate(-90)" font-size="2.4" fill="#333" stroke="#333" stroke-width="0.06" text-anchor="middle" font-family="'Liberation Sans', Arial, sans-serif">31°45'N</text>
<text transform="translate(-2.0,106.4) rotate(-90)" font-size="2.4" fill="#333" stroke="#333" stroke-width="0.06" text-anchor="middle" font-family="'Liberation Sans', Arial, sans-serif">31°30'N</text>
<text transform="translate(71.7,106.4) rotate(-90)" font-size="2.4" fill="#333" stroke="#333" stroke-width="0.06" text-anchor="middle" font-family="'Liberation Sans', Arial, sans-serif">31°30'N</text>
<g filter="url(#jag)"><g clip-path="url(#njclip)">
<rect x="8" y="2" width="56" height="108" filter="url(#nz3)"/>
<rect x="8" y="2" width="56" height="108" filter="url(#vn3)"/>
<g filter="url(#blur)">
<ellipse cx="34" cy="49" rx="6" ry="8" fill="#4a94c2" opacity="0.765"/>
<ellipse cx="26" cy="54" rx="4" ry="4" fill="#5a9fc0" opacity="0.51"/>
<ellipse cx="40" cy="60" rx="4" ry="5" fill="#6aa8b8" opacity="0.425"/>
<ellipse cx="50" cy="32" rx="8" ry="1.8" fill="#4f98c2" opacity="0.595"/>
<ellipse cx="42.5" cy="90" rx="2.5" ry="3" fill="#2e7cc4" opacity="0.85"/>
<ellipse cx="43.5" cy="86" rx="1.8" ry="1.4" fill="#ec9440" opacity="0.765"/>
<ellipse cx="38" cy="22" rx="7" ry="6" fill="#a9ca86" opacity="0.425"/>
<ellipse cx="22" cy="62" rx="6" ry="6" fill="#d6d68a" opacity="0.425"/>
<ellipse cx="46" cy="104" rx="6" ry="3" fill="#e6d488" opacity="0.425"/>
</g>
</g></g>
<text transform="translate(5.6,23.9) scale(0.78,1)" font-size="9" fill="#1a1a1a" stroke="#1a1a1a" stroke-width="0.1" font-family="'Liberation Serif', 'Times New Roman', serif">Winter</text>
<path d="M62.2 7.9 L62.900000000000006 11.8 L66.8 12.5 L62.900000000000006 13.2 L62.2 17.0 L61.5 13.2 L57.5 12.5 L61.5 11.8 Z" fill="#333"/>
<text x="62.2" y="6.2" font-size="2.2" fill="#333" text-anchor="middle" font-family="'Liberation Sans', Arial, sans-serif">N</text>
<text x="4.6" y="71.2" font-size="2.1" fill="#222" font-family="'Liberation Sans', Arial, sans-serif" font-weight="bold">AOD</text>
<rect x="4.1" y="72.40" width="3.9" height="2.2" rx="0.6" fill="#2a7cc4"/>
<text x="9" y="74.20" font-size="2.2" fill="#222" stroke="#222" stroke-width="0.06" font-family="'Liberation Sans', Arial, sans-serif">0.00 - 0.17</text>
<rect x="4.1" y="75.60" width="3.9" height="2.2" rx="0.6" fill="#5a9fbd"/>
<text x="9" y="77.40" font-size="2.2" fill="#222" stroke="#222" stroke-width="0.06" font-family="'Liberation Sans', Arial, sans-serif">0.17 - 0.28</text>
<rect x="4.1" y="78.80" width="3.9" height="2.2" rx="0.6" fill="#7fb98a"/>
<text x="9" y="80.60" font-size="2.2" fill="#222" stroke="#222" stroke-width="0.06" font-family="'Liberation Sans', Arial, sans-serif">0.28 - 0.37</text>
<rect x="4.1" y="82.00" width="3.9" height="2.2" rx="0.6" fill="#b4d36a"/>
<text x="9" y="83.80" font-size="2.2" fill="#222" stroke="#222" stroke-width="0.06" font-family="'Liberation Sans', Arial, sans-serif">0.37 - 0.46</text>
<rect x="4.1" y="85.20" width="3.9" height="2.2" rx="0.6" fill="#f6e7a6"/>
<text x="9" y="87.00" font-size="2.2" fill="#222" stroke="#222" stroke-width="0.06" font-family="'Liberation Sans', Arial, sans-serif">0.46 - 0.73</text>
<rect x="4.1" y="88.40" width="3.9" height="2.2" rx="0.6" fill="#f7bb3c"/>
<text x="9" y="90.20" font-size="2.2" fill="#222" stroke="#222" stroke-width="0.06" font-family="'Liberation Sans', Arial, sans-serif">0.73 - 0.88</text>
<rect x="4.1" y="91.60" width="3.9" height="2.2" rx="0.6" fill="#f4862a"/>
<text x="9" y="93.40" font-size="2.2" fill="#222" stroke="#222" stroke-width="0.06" font-family="'Liberation Sans', Arial, sans-serif">0.88 - 1.05</text>
<rect x="4.1" y="94.80" width="3.9" height="2.2" rx="0.6" fill="#e6511d"/>
<text x="9" y="96.60" font-size="2.2" fill="#222" stroke="#222" stroke-width="0.06" font-family="'Liberation Sans', Arial, sans-serif">1.05 - 1.26</text>
<rect x="4.1" y="98.00" width="3.9" height="2.2" rx="0.6" fill="#dc1a12"/>
<text x="9" y="99.80" font-size="2.2" fill="#222" stroke="#222" stroke-width="0.06" font-family="'Liberation Sans', Arial, sans-serif">&gt; 1.3</text>
<text x="4" y="105" font-size="2.1" fill="#333" font-family="'Liberation Sans', Arial, sans-serif">0</text>
<text x="10.5" y="105" font-size="2.1" fill="#333" font-family="'Liberation Sans', Arial, sans-serif">12.5</text>
<text x="19" y="105" font-size="2.1" fill="#333" font-family="'Liberation Sans', Arial, sans-serif">25</text>
<rect x="4.1" y="106.6" width="8" height="1.5" fill="#111"/>
<rect x="12.1" y="106.6" width="8.6" height="1.5" fill="#fff" stroke="#999" stroke-width="0.3"/>
<text x="21.2" y="108.2" font-size="1.8" fill="#444" font-family="'Liberation Sans', Arial, sans-serif">Km</text>
</g>
</svg>
<svg width="550" height="280" style="left:0;top:0" viewBox="0 0 550 280">
<rect x="33.0" y="148.00" width="137.10" height="99.80" fill="none" stroke="#8a8a8a" stroke-width="0.8"/>
<line x1="33.0" x2="34.2" y1="247.80" y2="247.80" stroke="#8a8a8a" stroke-width="0.6"/>
<line x1="33.00" x2="33.00" y1="247.8" y2="246.60000000000002" stroke="#8a8a8a" stroke-width="0.6"/>
<text x="31.4" y="249.30" font-size="4.2" fill="#222" stroke="#222" stroke-width="0.1" text-anchor="end" font-family="'Liberation Sans', Arial, sans-serif">0</text>
<text x="33.30" y="254.20000000000002" font-size="4.2" fill="#222" stroke="#222" stroke-width="0.1" text-anchor="middle" font-family="'Liberation Sans', Arial, sans-serif">0</text>
<line x1="33.0" x2="34.2" y1="234.49" y2="234.49" stroke="#8a8a8a" stroke-width="0.6"/>
<line x1="51.28" x2="51.28" y1="247.8" y2="246.60000000000002" stroke="#8a8a8a" stroke-width="0.6"/>
<text x="31.4" y="235.99" font-size="4.2" fill="#222" stroke="#222" stroke-width="0.1" text-anchor="end" font-family="'Liberation Sans', Arial, sans-serif">0.2</text>
<text x="51.58" y="254.20000000000002" font-size="4.2" fill="#222" stroke="#222" stroke-width="0.1" text-anchor="middle" font-family="'Liberation Sans', Arial, sans-serif">0.2</text>
<line x1="33.0" x2="34.2" y1="221.19" y2="221.19" stroke="#8a8a8a" stroke-width="0.6"/>
<line x1="69.56" x2="69.56" y1="247.8" y2="246.60000000000002" stroke="#8a8a8a" stroke-width="0.6"/>
<text x="31.4" y="222.69" font-size="4.2" fill="#222" stroke="#222" stroke-width="0.1" text-anchor="end" font-family="'Liberation Sans', Arial, sans-serif">0.4</text>
<text x="69.86" y="254.20000000000002" font-size="4.2" fill="#222" stroke="#222" stroke-width="0.1" text-anchor="middle" font-family="'Liberation Sans', Arial, sans-serif">0.4</text>
<line x1="33.0" x2="34.2" y1="207.88" y2="207.88" stroke="#8a8a8a" stroke-width="0.6"/>
<line x1="87.84" x2="87.84" y1="247.8" y2="246.60000000000002" stroke="#8a8a8a" stroke-width="0.6"/>
<text x="31.4" y="209.38" font-size="4.2" fill="#222" stroke="#222" stroke-width="0.1" text-anchor="end" font-family="'Liberation Sans', Arial, sans-serif">0.6</text>
<text x="88.14" y="254.20000000000002" font-size="4.2" fill="#222" stroke="#222" stroke-width="0.1" text-anchor="middle" font-family="'Liberation Sans', Arial, sans-serif">0.6</text>
<line x1="33.0" x2="34.2" y1="194.58" y2="194.58" stroke="#8a8a8a" stroke-width="0.6"/>
<line x1="106.12" x2="106.12" y1="247.8" y2="246.60000000000002" stroke="#8a8a8a" stroke-width="0.6"/>
<text x="31.4" y="196.08" font-size="4.2" fill="#222" stroke="#222" stroke-width="0.1" text-anchor="end" font-family="'Liberation Sans', Arial, sans-serif">0.8</text>
<text x="106.42" y="254.20000000000002" font-size="4.2" fill="#222" stroke="#222" stroke-width="0.1" text-anchor="middle" font-family="'Liberation Sans', Arial, sans-serif">0.8</text>
<line x1="33.0" x2="34.2" y1="181.27" y2="181.27" stroke="#8a8a8a" stroke-width="0.6"/>
<line x1="124.40" x2="124.40" y1="247.8" y2="246.60000000000002" stroke="#8a8a8a" stroke-width="0.6"/>
<text x="31.4" y="182.77" font-size="4.2" fill="#222" stroke="#222" stroke-width="0.1" text-anchor="end" font-family="'Liberation Sans', Arial, sans-serif">1</text>
<text x="124.70" y="254.20000000000002" font-size="4.2" fill="#222" stroke="#222" stroke-width="0.1" text-anchor="middle" font-family="'Liberation Sans', Arial, sans-serif">1</text>
<line x1="33.0" x2="34.2" y1="167.96" y2="167.96" stroke="#8a8a8a" stroke-width="0.6"/>
<line x1="142.68" x2="142.68" y1="247.8" y2="246.60000000000002" stroke="#8a8a8a" stroke-width="0.6"/>
<text x="31.4" y="169.46" font-size="4.2" fill="#222" stroke="#222" stroke-width="0.1" text-anchor="end" font-family="'Liberation Sans', Arial, sans-serif">1.2</text>
<text x="142.98" y="254.20000000000002" font-size="4.2" fill="#222" stroke="#222" stroke-width="0.1" text-anchor="middle" font-family="'Liberation Sans', Arial, sans-serif">1.2</text>
<line x1="33.0" x2="34.2" y1="154.66" y2="154.66" stroke="#8a8a8a" stroke-width="0.6"/>
<line x1="160.96" x2="160.96" y1="247.8" y2="246.60000000000002" stroke="#8a8a8a" stroke-width="0.6"/>
<text x="31.4" y="156.16" font-size="4.2" fill="#222" stroke="#222" stroke-width="0.1" text-anchor="end" font-family="'Liberation Sans', Arial, sans-serif">1.4</text>
<text x="161.26" y="254.20000000000002" font-size="4.2" fill="#222" stroke="#222" stroke-width="0.1" text-anchor="middle" font-family="'Liberation Sans', Arial, sans-serif">1.4</text>
<line x1="33.0" y1="247.8" x2="160.96" y2="154.66" stroke="#9a9a9a" stroke-width="0.6"/>
<line x1="42.14" y1="232.58" x2="142.68" y2="168.40" stroke="#f26d6d" stroke-width="0.9"/>
<circle cx="59.3" cy="208.1" r="1.15" fill="#fff" stroke="#777" stroke-width="0.45"/>
<circle cx="57.6" cy="212.4" r="1.15" fill="#fff" stroke="#777" stroke-width="0.45"/>
<circle cx="58.6" cy="216.1" r="1.15" fill="#fff" stroke="#777" stroke-width="0.45"/>
<circle cx="77.4" cy="206.4" r="1.15" fill="#fff" stroke="#777" stroke-width="0.45"/>
<circle cx="71" cy="216.9" r="1.15" fill="#fff" stroke="#777" stroke-width="0.45"/>
<circle cx="71.4" cy="218.3" r="1.15" fill="#fff" stroke="#777" stroke-width="0.45"/>
<circle cx="87.9" cy="209.3" r="1.15" fill="#fff" stroke="#777" stroke-width="0.45"/>
<circle cx="105" cy="197.1" r="1.15" fill="#fff" stroke="#777" stroke-width="0.45"/>
<circle cx="115.4" cy="182.4" r="1.15" fill="#fff" stroke="#777" stroke-width="0.45"/>
<circle cx="121.6" cy="159.1" r="1.15" fill="#fff" stroke="#777" stroke-width="0.45"/>
<circle cx="51" cy="230" r="0.95" fill="#111"/>
<circle cx="68.1" cy="208.6" r="0.95" fill="#111"/>
<circle cx="74" cy="207.9" r="0.95" fill="#111"/>
<circle cx="68.3" cy="222.9" r="0.95" fill="#111"/>
<circle cx="78.6" cy="216" r="0.95" fill="#111"/>
<circle cx="82.6" cy="213.6" r="0.95" fill="#111"/>
<circle cx="88.9" cy="210" r="0.95" fill="#111"/>
<circle cx="91.9" cy="213.3" r="0.95" fill="#111"/>
<circle cx="96.1" cy="201.9" r="0.95" fill="#111"/>
<circle cx="107.4" cy="202.6" r="0.95" fill="#111"/>
<circle cx="115.7" cy="184.3" r="0.95" fill="#111"/>
<circle cx="116.9" cy="183.6" r="0.95" fill="#111"/>
<circle cx="125" cy="176" r="0.95" fill="#111"/>
<text x="44.6" y="166.40" font-size="4.75" fill="#111" stroke="#111" stroke-width="0.12" font-family="'Liberation Serif', 'Times New Roman', serif">y=0.877x+0.141</text>
<text x="44.6" y="172.90" font-size="4.75" fill="#111" stroke="#111" stroke-width="0.12" font-family="'Liberation Serif', 'Times New Roman', serif">R=0.864</text>
<text x="44.6" y="179.40" font-size="4.75" fill="#111" stroke="#111" stroke-width="0.12" font-family="'Liberation Serif', 'Times New Roman', serif">RMSE=0.144</text>
<text x="44.6" y="185.90" font-size="4.75" fill="#111" stroke="#111" stroke-width="0.12" font-family="'Liberation Serif', 'Times New Roman', serif">MAE=0.106</text>
<text x="44.6" y="192.40" font-size="4.75" fill="#111" stroke="#111" stroke-width="0.12" font-family="'Liberation Serif', 'Times New Roman', serif">N=23</text>
<circle cx="145.4" cy="227.7" r="0.9" fill="#fff" stroke="#666" stroke-width="0.4"/>
<circle cx="145.4" cy="232.1" r="0.8" fill="#111"/>
<line x1="140.4" x2="149.6" y1="236.8" y2="236.8" stroke="#f59a9a" stroke-width="0.9"/>
<line x1="140.4" x2="149.6" y1="241.3" y2="241.3" stroke="#bbb" stroke-width="0.5" stroke-dasharray="0.8 0.4"/>
<text x="150.9" y="229.10" font-size="3.8" fill="#222" stroke="#222" stroke-width="0.12" font-family="'Liberation Sans', Arial, sans-serif">NJU</text>
<text x="150.9" y="233.60" font-size="3.8" fill="#222" stroke="#222" stroke-width="0.12" font-family="'Liberation Sans', Arial, sans-serif">NUIST</text>
<text x="150.9" y="238.10" font-size="3.8" fill="#222" stroke="#222" stroke-width="0.12" font-family="'Liberation Sans', Arial, sans-serif">Liner Fit</text>
<text x="150.9" y="242.60" font-size="3.8" fill="#222" stroke="#222" stroke-width="0.12" font-family="'Liberation Sans', Arial, sans-serif">1:1 Line</text>
<text x="101.4" y="259.9" font-size="5.2" font-weight="bold" fill="#111" stroke="#111" stroke-width="0.1" text-anchor="middle" font-family="'Liberation Serif', 'Times New Roman', serif">AOD of CE-318</text>
<text transform="translate(23.4,198.8) rotate(-90)" font-size="4.8" font-weight="bold" fill="#111" stroke="#111" stroke-width="0.1" text-anchor="middle" font-family="'Liberation Serif', 'Times New Roman', serif">AOD of OLI</text>
</svg>
<svg width="550" height="280" style="left:0;top:0" viewBox="0 0 550 280">
<rect x="227.5" y="149.0" width="137.10" height="95.50" fill="#fff" stroke="#8a8a8a" stroke-width="0.9"/>
<line x1="231.10" x2="231.10" y1="208.65" y2="237.40" stroke="#8f95c4" stroke-width="0.6"/>
<line x1="229.80" x2="232.40" y1="208.65" y2="208.65" stroke="#8f95c4" stroke-width="0.6"/>
<rect x="228.25" y="223.03" width="5.7" height="15.57" fill="#35408f"/>
<line x1="231.10" x2="231.10" y1="208.65" y2="223.03" stroke="#8f95c4" stroke-width="0.6"/>
<line x1="231.10" x2="231.10" y1="244.5" y2="245.5" stroke="#8a8a8a" stroke-width="0.5"/>
<text transform="translate(234.50,248.8) rotate(-57)" font-size="3.2" font-weight="bold" fill="#1a1a1a" stroke="#1a1a1a" stroke-width="0.08" text-anchor="end" font-family="'Liberation Sans', Arial, sans-serif">01/06/2017</text>
<line x1="238.30" x2="238.30" y1="206.85" y2="230.81" stroke="#8f95c4" stroke-width="0.6"/>
<line x1="237.00" x2="239.60" y1="206.85" y2="206.85" stroke="#8f95c4" stroke-width="0.6"/>
<rect x="235.45" y="218.83" width="5.7" height="19.77" fill="#35408f"/>
<line x1="238.30" x2="238.30" y1="206.85" y2="218.83" stroke="#8f95c4" stroke-width="0.6"/>
<line x1="238.30" x2="238.30" y1="244.5" y2="245.5" stroke="#8a8a8a" stroke-width="0.5"/>
<text transform="translate(241.70,248.8) rotate(-57)" font-size="3.2" font-weight="bold" fill="#1a1a1a" stroke="#1a1a1a" stroke-width="0.08" text-anchor="end" font-family="'Liberation Sans', Arial, sans-serif">01/22/2017</text>
<line x1="245.50" x2="245.50" y1="171.51" y2="205.06" stroke="#8f95c4" stroke-width="0.6"/>
<line x1="244.20" x2="246.80" y1="171.51" y2="171.51" stroke="#8f95c4" stroke-width="0.6"/>
<rect x="242.65" y="188.28" width="5.7" height="50.32" fill="#35408f"/>
<line x1="245.50" x2="245.50" y1="171.51" y2="188.28" stroke="#8f95c4" stroke-width="0.6"/>
<line x1="245.50" x2="245.50" y1="244.5" y2="245.5" stroke="#8a8a8a" stroke-width="0.5"/>
<text transform="translate(248.90,248.8) rotate(-57)" font-size="3.2" font-weight="bold" fill="#1a1a1a" stroke="#1a1a1a" stroke-width="0.08" text-anchor="end" font-family="'Liberation Sans', Arial, sans-serif">02/07/2017</text>
<line x1="252.70" x2="252.70" y1="193.68" y2="220.03" stroke="#a9cbe8" stroke-width="0.6"/>
<line x1="251.40" x2="254.00" y1="193.68" y2="193.68" stroke="#a9cbe8" stroke-width="0.6"/>
<rect x="249.85" y="206.85" width="5.7" height="31.75" fill="#4a8fcc"/>
<line x1="252.70" x2="252.70" y1="193.68" y2="206.85" stroke="#a9cbe8" stroke-width="0.6"/>
<line x1="252.70" x2="252.70" y1="244.5" y2="245.5" stroke="#8a8a8a" stroke-width="0.5"/>
<text transform="translate(256.10,248.8) rotate(-57)" font-size="3.2" font-weight="bold" fill="#1a1a1a" stroke="#1a1a1a" stroke-width="0.08" text-anchor="end" font-family="'Liberation Sans', Arial, sans-serif">03/11/2017</text>
<line x1="259.90" x2="259.90" y1="194.27" y2="230.21" stroke="#a9cbe8" stroke-width="0.6"/>
<line x1="258.60" x2="261.20" y1="194.27" y2="194.27" stroke="#a9cbe8" stroke-width="0.6"/>
<rect x="257.05" y="212.24" width="5.7" height="26.36" fill="#4a8fcc"/>
<line x1="259.90" x2="259.90" y1="194.27" y2="212.24" stroke="#a9cbe8" stroke-width="0.6"/>
<line x1="259.90" x2="259.90" y1="244.5" y2="245.5" stroke="#8a8a8a" stroke-width="0.5"/>
<text transform="translate(263.30,248.8) rotate(-57)" font-size="3.2" font-weight="bold" fill="#1a1a1a" stroke="#1a1a1a" stroke-width="0.08" text-anchor="end" font-family="'Liberation Sans', Arial, sans-serif">04/12/2017</text>
<line x1="267.10" x2="267.10" y1="155.94" y2="224.22" stroke="#d3aed6" stroke-width="0.6"/>
<line x1="265.80" x2="268.40" y1="155.94" y2="155.94" stroke="#d3aed6" stroke-width="0.6"/>
<rect x="264.25" y="190.08" width="5.7" height="48.52" fill="#a667ad"/>
<line x1="267.10" x2="267.10" y1="155.94" y2="190.08" stroke="#d3aed6" stroke-width="0.6"/>
<line x1="267.10" x2="267.10" y1="244.5" y2="245.5" stroke="#8a8a8a" stroke-width="0.5"/>
<text transform="translate(270.50,248.8) rotate(-57)" font-size="3.2" font-weight="bold" fill="#1a1a1a" stroke="#1a1a1a" stroke-width="0.08" text-anchor="end" font-family="'Liberation Sans', Arial, sans-serif">06/15/2017</text>
<line x1="274.30" x2="274.30" y1="194.27" y2="230.21" stroke="#d3aed6" stroke-width="0.6"/>
<line x1="273.00" x2="275.60" y1="194.27" y2="194.27" stroke="#d3aed6" stroke-width="0.6"/>
<rect x="271.45" y="212.24" width="5.7" height="26.36" fill="#a667ad"/>
<line x1="274.30" x2="274.30" y1="194.27" y2="212.24" stroke="#d3aed6" stroke-width="0.6"/>
<line x1="274.30" x2="274.30" y1="244.5" y2="245.5" stroke="#8a8a8a" stroke-width="0.5"/>
<text transform="translate(277.70,248.8) rotate(-57)" font-size="3.2" font-weight="bold" fill="#1a1a1a" stroke="#1a1a1a" stroke-width="0.08" text-anchor="end" font-family="'Liberation Sans', Arial, sans-serif">07/17/2017</text>
<line x1="281.50" x2="281.50" y1="204.46" y2="232.01" stroke="#f9dfb8" stroke-width="0.6"/>
<line x1="280.20" x2="282.80" y1="204.46" y2="204.46" stroke="#f9dfb8" stroke-width="0.6"/>
<rect x="278.65" y="218.23" width="5.7" height="20.37" fill="#f2c27e"/>
<line x1="281.50" x2="281.50" y1="204.46" y2="218.23" stroke="#f9dfb8" stroke-width="0.6"/>
<line x1="281.50" x2="281.50" y1="244.5" y2="245.5" stroke="#8a8a8a" stroke-width="0.5"/>
<text transform="translate(284.90,248.8) rotate(-57)" font-size="3.2" font-weight="bold" fill="#1a1a1a" stroke="#1a1a1a" stroke-width="0.08" text-anchor="end" font-family="'Liberation Sans', Arial, sans-serif">09/03/2017</text>
<line x1="288.70" x2="288.70" y1="202.06" y2="228.42" stroke="#f9dfb8" stroke-width="0.6"/>
<line x1="287.40" x2="290.00" y1="202.06" y2="202.06" stroke="#f9dfb8" stroke-width="0.6"/>
<rect x="285.85" y="215.24" width="5.7" height="23.36" fill="#f2c27e"/>
<line x1="288.70" x2="288.70" y1="202.06" y2="215.24" stroke="#f9dfb8" stroke-width="0.6"/>
<line x1="288.70" x2="288.70" y1="244.5" y2="245.5" stroke="#8a8a8a" stroke-width="0.5"/>
<text transform="translate(292.10,248.8) rotate(-57)" font-size="3.2" font-weight="bold" fill="#1a1a1a" stroke="#1a1a1a" stroke-width="0.08" text-anchor="end" font-family="'Liberation Sans', Arial, sans-serif">10/05/2017</text>
<line x1="295.90" x2="295.90" y1="210.45" y2="233.21" stroke="#f9dfb8" stroke-width="0.6"/>
<line x1="294.60" x2="297.20" y1="210.45" y2="210.45" stroke="#f9dfb8" stroke-width="0.6"/>
<rect x="293.05" y="221.83" width="5.7" height="16.77" fill="#f2c27e"/>
<line x1="295.90" x2="295.90" y1="210.45" y2="221.83" stroke="#f9dfb8" stroke-width="0.6"/>
<line x1="295.90" x2="295.90" y1="244.5" y2="245.5" stroke="#8a8a8a" stroke-width="0.5"/>
<text transform="translate(299.30,248.8) rotate(-57)" font-size="3.2" font-weight="bold" fill="#1a1a1a" stroke="#1a1a1a" stroke-width="0.08" text-anchor="end" font-family="'Liberation Sans', Arial, sans-serif">11/22/2017</text>
<line x1="303.10" x2="303.10" y1="198.47" y2="220.03" stroke="#8f95c4" stroke-width="0.6"/>
<line x1="301.80" x2="304.40" y1="198.47" y2="198.47" stroke="#8f95c4" stroke-width="0.6"/>
<rect x="300.25" y="209.25" width="5.7" height="29.35" fill="#35408f"/>
<line x1="303.10" x2="303.10" y1="198.47" y2="209.25" stroke="#8f95c4" stroke-width="0.6"/>
<line x1="303.10" x2="303.10" y1="244.5" y2="245.5" stroke="#8a8a8a" stroke-width="0.5"/>
<text transform="translate(306.50,248.8) rotate(-57)" font-size="3.2" font-weight="bold" fill="#1a1a1a" stroke="#1a1a1a" stroke-width="0.08" text-anchor="end" font-family="'Liberation Sans', Arial, sans-serif">12/08/2017</text>
<line x1="310.30" x2="310.30" y1="195.47" y2="236.20" stroke="#8f95c4" stroke-width="0.6"/>
<line x1="309.00" x2="311.60" y1="195.47" y2="195.47" stroke="#8f95c4" stroke-width="0.6"/>
<rect x="307.45" y="215.84" width="5.7" height="22.76" fill="#35408f"/>
<line x1="310.30" x2="310.30" y1="195.47" y2="215.84" stroke="#8f95c4" stroke-width="0.6"/>
<line x1="310.30" x2="310.30" y1="244.5" y2="245.5" stroke="#8a8a8a" stroke-width="0.5"/>
<text transform="translate(313.70,248.8) rotate(-57)" font-size="3.2" font-weight="bold" fill="#1a1a1a" stroke="#1a1a1a" stroke-width="0.08" text-anchor="end" font-family="'Liberation Sans', Arial, sans-serif">01/25/2018</text>
<line x1="317.50" x2="317.50" y1="183.49" y2="221.83" stroke="#a9cbe8" stroke-width="0.6"/>
<line x1="316.20" x2="318.80" y1="183.49" y2="183.49" stroke="#a9cbe8" stroke-width="0.6"/>
<rect x="314.65" y="202.66" width="5.7" height="35.94" fill="#4a8fcc"/>
<line x1="317.50" x2="317.50" y1="183.49" y2="202.66" stroke="#a9cbe8" stroke-width="0.6"/>
<line x1="317.50" x2="317.50" y1="244.5" y2="245.5" stroke="#8a8a8a" stroke-width="0.5"/>
<text transform="translate(320.90,248.8) rotate(-57)" font-size="3.2" font-weight="bold" fill="#1a1a1a" stroke="#1a1a1a" stroke-width="0.08" text-anchor="end" font-family="'Liberation Sans', Arial, sans-serif">03/14/2018</text>
<line x1="324.70" x2="324.70" y1="196.67" y2="231.41" stroke="#a9cbe8" stroke-width="0.6"/>
<line x1="323.40" x2="326.00" y1="196.67" y2="196.67" stroke="#a9cbe8" stroke-width="0.6"/>
<rect x="321.85" y="214.04" width="5.7" height="24.56" fill="#4a8fcc"/>
<line x1="324.70" x2="324.70" y1="196.67" y2="214.04" stroke="#a9cbe8" stroke-width="0.6"/>
<line x1="324.70" x2="324.70" y1="244.5" y2="245.5" stroke="#8a8a8a" stroke-width="0.5"/>
<text transform="translate(328.10,248.8) rotate(-57)" font-size="3.2" font-weight="bold" fill="#1a1a1a" stroke="#1a1a1a" stroke-width="0.08" text-anchor="end" font-family="'Liberation Sans', Arial, sans-serif">04/15/2018</text>
<line x1="331.90" x2="331.90" y1="179.30" y2="222.43" stroke="#d3aed6" stroke-width="0.6"/>
<line x1="330.60" x2="333.20" y1="179.30" y2="179.30" stroke="#d3aed6" stroke-width="0.6"/>
<rect x="329.05" y="200.86" width="5.7" height="37.74" fill="#a667ad"/>
<line x1="331.90" x2="331.90" y1="179.30" y2="200.86" stroke="#d3aed6" stroke-width="0.6"/>
<line x1="331.90" x2="331.90" y1="244.5" y2="245.5" stroke="#8a8a8a" stroke-width="0.5"/>
<text transform="translate(335.30,248.8) rotate(-57)" font-size="3.2" font-weight="bold" fill="#1a1a1a" stroke="#1a1a1a" stroke-width="0.08" text-anchor="end" font-family="'Liberation Sans', Arial, sans-serif">06/02/2018</text>
<line x1="339.10" x2="339.10" y1="190.68" y2="230.21" stroke="#f9dfb8" stroke-width="0.6"/>
<line x1="337.80" x2="340.40" y1="190.68" y2="190.68" stroke="#f9dfb8" stroke-width="0.6"/>
<rect x="336.25" y="210.45" width="5.7" height="28.15" fill="#f2c27e"/>
<line x1="339.10" x2="339.10" y1="190.68" y2="210.45" stroke="#f9dfb8" stroke-width="0.6"/>
<line x1="339.10" x2="339.10" y1="244.5" y2="245.5" stroke="#8a8a8a" stroke-width="0.5"/>
<text transform="translate(342.50,248.8) rotate(-57)" font-size="3.2" font-weight="bold" fill="#1a1a1a" stroke="#1a1a1a" stroke-width="0.08" text-anchor="end" font-family="'Liberation Sans', Arial, sans-serif">09/06/2018</text>
<line x1="346.30" x2="346.30" y1="220.03" y2="240.40" stroke="#f9dfb8" stroke-width="0.6"/>
<line x1="345.00" x2="347.60" y1="220.03" y2="220.03" stroke="#f9dfb8" stroke-width="0.6"/>
<rect x="343.45" y="230.21" width="5.7" height="8.39" fill="#f2c27e"/>
<line x1="346.30" x2="346.30" y1="220.03" y2="230.21" stroke="#f9dfb8" stroke-width="0.6"/>
<line x1="346.30" x2="346.30" y1="244.5" y2="245.5" stroke="#8a8a8a" stroke-width="0.5"/>
<text transform="translate(349.70,248.8) rotate(-57)" font-size="3.2" font-weight="bold" fill="#1a1a1a" stroke="#1a1a1a" stroke-width="0.08" text-anchor="end" font-family="'Liberation Sans', Arial, sans-serif">10/24/2018</text>
<line x1="353.50" x2="353.50" y1="186.49" y2="226.02" stroke="#f9dfb8" stroke-width="0.6"/>
<line x1="352.20" x2="354.80" y1="186.49" y2="186.49" stroke="#f9dfb8" stroke-width="0.6"/>
<rect x="350.65" y="206.25" width="5.7" height="32.35" fill="#f2c27e"/>
<line x1="353.50" x2="353.50" y1="186.49" y2="206.25" stroke="#f9dfb8" stroke-width="0.6"/>
<line x1="353.50" x2="353.50" y1="244.5" y2="245.5" stroke="#8a8a8a" stroke-width="0.5"/>
<text transform="translate(356.90,248.8) rotate(-57)" font-size="3.2" font-weight="bold" fill="#1a1a1a" stroke="#1a1a1a" stroke-width="0.08" text-anchor="end" font-family="'Liberation Sans', Arial, sans-serif">11/09/2018</text>
<line x1="360.70" x2="360.70" y1="204.46" y2="242.79" stroke="#f9dfb8" stroke-width="0.6"/>
<line x1="359.40" x2="362.00" y1="204.46" y2="204.46" stroke="#f9dfb8" stroke-width="0.6"/>
<rect x="357.85" y="223.62" width="5.7" height="14.97" fill="#f2c27e"/>
<line x1="360.70" x2="360.70" y1="204.46" y2="223.62" stroke="#f9dfb8" stroke-width="0.6"/>
<line x1="360.70" x2="360.70" y1="244.5" y2="245.5" stroke="#8a8a8a" stroke-width="0.5"/>
<text transform="translate(364.10,248.8) rotate(-57)" font-size="3.2" font-weight="bold" fill="#1a1a1a" stroke="#1a1a1a" stroke-width="0.08" text-anchor="end" font-family="'Liberation Sans', Arial, sans-serif">12/27/2018</text>
<line x1="227.5" x2="364.6" y1="238.6" y2="238.6" stroke="#e8b870" stroke-width="0.5"/>
<line x1="226.5" x2="227.5" y1="238.60" y2="238.60" stroke="#8a8a8a" stroke-width="0.5"/>
<text x="224.6" y="239.90" font-size="3.6" fill="#333" stroke="#333" stroke-width="0.08" text-anchor="end" font-family="'Liberation Sans', Arial, sans-serif">0.0</text>
<line x1="226.5" x2="227.5" y1="226.62" y2="226.62" stroke="#8a8a8a" stroke-width="0.5"/>
<text x="224.6" y="227.92" font-size="3.6" fill="#333" stroke="#333" stroke-width="0.08" text-anchor="end" font-family="'Liberation Sans', Arial, sans-serif">0.2</text>
<line x1="226.5" x2="227.5" y1="214.64" y2="214.64" stroke="#8a8a8a" stroke-width="0.5"/>
<text x="224.6" y="215.94" font-size="3.6" fill="#333" stroke="#333" stroke-width="0.08" text-anchor="end" font-family="'Liberation Sans', Arial, sans-serif">0.4</text>
<line x1="226.5" x2="227.5" y1="202.66" y2="202.66" stroke="#8a8a8a" stroke-width="0.5"/>
<text x="224.6" y="203.96" font-size="3.6" fill="#333" stroke="#333" stroke-width="0.08" text-anchor="end" font-family="'Liberation Sans', Arial, sans-serif">0.6</text>
<line x1="226.5" x2="227.5" y1="190.68" y2="190.68" stroke="#8a8a8a" stroke-width="0.5"/>
<text x="224.6" y="191.98" font-size="3.6" fill="#333" stroke="#333" stroke-width="0.08" text-anchor="end" font-family="'Liberation Sans', Arial, sans-serif">0.8</text>
<line x1="226.5" x2="227.5" y1="178.70" y2="178.70" stroke="#8a8a8a" stroke-width="0.5"/>
<text x="224.6" y="180.00" font-size="3.6" fill="#333" stroke="#333" stroke-width="0.08" text-anchor="end" font-family="'Liberation Sans', Arial, sans-serif">1.0</text>
<line x1="226.5" x2="227.5" y1="166.72" y2="166.72" stroke="#8a8a8a" stroke-width="0.5"/>
<text x="224.6" y="168.02" font-size="3.6" fill="#333" stroke="#333" stroke-width="0.08" text-anchor="end" font-family="'Liberation Sans', Arial, sans-serif">1.2</text>
<line x1="226.5" x2="227.5" y1="154.74" y2="154.74" stroke="#8a8a8a" stroke-width="0.5"/>
<text x="224.6" y="156.04" font-size="3.6" fill="#333" stroke="#333" stroke-width="0.08" text-anchor="end" font-family="'Liberation Sans', Arial, sans-serif">1.4</text>
<text transform="translate(217.6,197.1) rotate(-90)" font-size="4.7" fill="#222" stroke="#222" stroke-width="0.08" text-anchor="middle" font-family="'Liberation Serif', 'Times New Roman', serif">AOD</text>
<rect x="315.9" y="152.3" width="8.6" height="3.9" fill="#4a8fcc"/>
<text x="325.8" y="155.5" font-size="4.1" fill="#222" stroke="#222" stroke-width="0.08" font-family="'Liberation Serif', 'Times New Roman', serif">Spring</text>
<rect x="339.3" y="152.3" width="8.6" height="3.9" fill="#a667ad"/>
<text x="349.2" y="155.5" font-size="4.1" fill="#222" stroke="#222" stroke-width="0.08" font-family="'Liberation Serif', 'Times New Roman', serif">Summer</text>
<rect x="315.9" y="157.2" width="8.6" height="3.9" fill="#f2c27e"/>
<text x="325.8" y="160.4" font-size="4.1" fill="#222" stroke="#222" stroke-width="0.08" font-family="'Liberation Serif', 'Times New Roman', serif">Autumn</text>
<rect x="339.3" y="157.2" width="8.6" height="3.9" fill="#35408f"/>
<text x="349.2" y="160.4" font-size="4.1" fill="#222" stroke="#222" stroke-width="0.08" font-family="'Liberation Serif', 'Times New Roman', serif">Winter</text>
</svg>
<svg width="550" height="280" style="left:0;top:0" viewBox="0 0 550 280">
<path d="M524.7 255.7 L383.6 255.7 A12 12 0 0 1 371.6 243.7 L371.6 166.5 A12 12 0 0 1 383.6 154.5 L524.7 154.5 A12 12 0 0 1 536.7 166.5 L536.7 243.7 A12 12 0 0 1 524.7 255.7" fill="none" stroke="#111" stroke-width="2" stroke-dasharray="6.8 11.28" stroke-dashoffset="-1.75"/>
</svg>
<div class="jw" style="left:377.6px;top:163.85px;font-size:9.6px"><b>Purpose:</b></div>
<div class="jw" style="left:418.1px;top:163.85px;font-size:9.6px">(1)</div>
<div class="jw" style="left:432.2px;top:163.85px;font-size:9.6px">To</div>
<div class="jw" style="left:447.2px;top:163.85px;font-size:9.6px">retrieve</div>
<div class="jw" style="left:482.4px;top:163.85px;font-size:9.6px">the</div>
<div class="jw" style="left:499.2px;top:163.85px;font-size:9.6px">AODs</div>
<div class="jw" style="left:378.1px;top:180.85px;font-size:9.6px">from</div>
<div class="jw" style="left:402.1px;top:180.85px;font-size:9.6px">Landsat</div>
<div class="jw" style="left:437.0px;top:180.85px;font-size:9.6px">8</div>
<div class="jw" style="left:446.4px;top:180.85px;font-size:9.6px">OLI</div>
<div class="jw" style="left:468.6px;top:180.85px;font-size:9.6px">images</div>
<div class="jw" style="left:501.2px;top:180.85px;font-size:9.6px">(2)</div>
<div class="jw" style="left:515.0px;top:180.85px;font-size:9.6px">To</div>
<div class="jl" style="left:378.1px;top:197.85px;width:151.6px;font-size:9.6px">analyze the spatiotemporal distribution</div>
<div class="jw" style="left:377.6px;top:214.85px;font-size:9.6px">of</div>
<div class="jw" style="left:388.6px;top:214.85px;font-size:9.6px">AODs</div>
<div class="jw" style="left:419.5px;top:214.85px;font-size:9.6px">in</div>
<div class="jw" style="left:431.9px;top:214.85px;font-size:9.6px">Nanjing</div>
<div class="jw" style="left:469.4px;top:214.85px;font-size:9.6px">(3)</div>
<div class="jw" style="left:486.1px;top:214.85px;font-size:9.6px">To</div>
<div class="jw" style="left:504.3px;top:214.85px;font-size:9.6px">better</div>
<div class="jl" style="left:377.6px;top:231.85px;width:152.2px;font-size:9.6px">understand urban air pollution problem</div>

</body></html>
